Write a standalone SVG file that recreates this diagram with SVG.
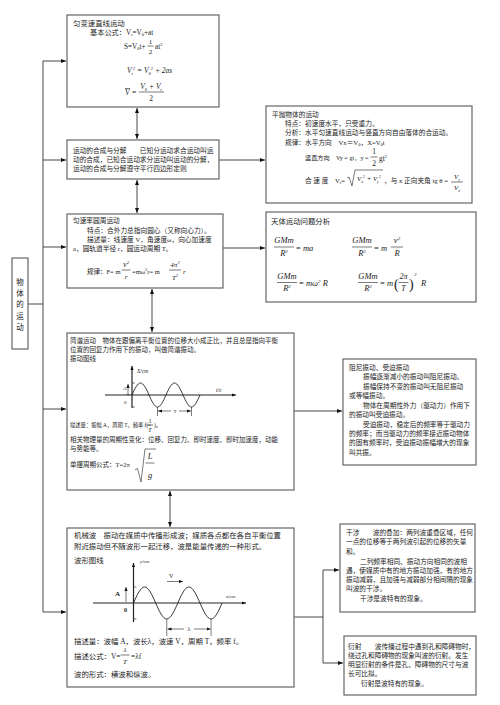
<svg xmlns="http://www.w3.org/2000/svg" width="500" height="705" viewBox="0 0 500 705">
<defs>
<marker id="ah" viewBox="0 0 10 10" refX="10" refY="5" markerWidth="5" markerHeight="5" orient="auto-start-reverse" markerUnits="userSpaceOnUse"><path d="M0,1 L10,5 L0,9 z" fill="#111"/></marker>
<marker id="sa" viewBox="0 0 10 10" refX="10" refY="5" markerWidth="4" markerHeight="4" orient="auto-start-reverse" markerUnits="userSpaceOnUse"><path d="M0,1 L10,5 L0,9 z" fill="#111"/></marker>
</defs>
<style>
.box{fill:#fff;stroke:#666;stroke-width:1.2}
.t{font-family:"Liberation Serif","Noto Sans CJK SC",serif;font-size:6.7px;fill:#222}
.tb{font-family:"Liberation Serif","Noto Sans CJK SC",serif;font-size:7.4px;fill:#222}
.m{font-family:"Liberation Serif",serif;font-style:italic;fill:#222}
.c{text-anchor:middle}
.ln{stroke:#333;stroke-width:0.9;fill:none}
.fl{stroke:#222;stroke-width:0.6;fill:none}
.ax{stroke:#222;stroke-width:1.2;fill:none}
.wv{stroke:#222;stroke-width:0.9;fill:none}
</style>
<rect width="500" height="705" fill="#fff"/>

<g id="connectors">
<line class="ln" x1="43" y1="61" x2="43" y2="612"/>
<line class="ln" x1="28" y1="304" x2="43" y2="304"/>
<line class="ln" x1="43" y1="61" x2="66" y2="61" marker-end="url(#ah)"/>
<line class="ln" x1="43" y1="160" x2="66" y2="160" marker-end="url(#ah)"/>
<line class="ln" x1="43" y1="247" x2="66" y2="247" marker-end="url(#ah)"/>
<line class="ln" x1="43" y1="409" x2="66" y2="409" marker-end="url(#ah)"/>
<line class="ln" x1="43" y1="612" x2="66" y2="612" marker-end="url(#ah)"/>
<line class="ln" x1="137" y1="108" x2="137" y2="139" marker-start="url(#ah)" marker-end="url(#ah)"/>
<line class="ln" x1="137" y1="180" x2="137" y2="213" marker-start="url(#ah)" marker-end="url(#ah)"/>
<line class="ln" x1="152" y1="289" x2="152" y2="332" marker-start="url(#ah)" marker-end="url(#ah)"/>
<line class="ln" x1="170" y1="491" x2="170" y2="527" marker-start="url(#ah)" marker-end="url(#ah)"/>
<line class="ln" x1="219" y1="160" x2="265" y2="160" marker-end="url(#ah)"/>
<line class="ln" x1="223" y1="248" x2="265" y2="248" marker-end="url(#ah)"/>
<line class="ln" x1="294" y1="411" x2="342" y2="411" marker-end="url(#ah)"/>
<line class="ln" x1="294" y1="617" x2="323" y2="617"/>
<line class="ln" x1="323" y1="570" x2="323" y2="663"/>
<line class="ln" x1="323" y1="570" x2="339" y2="570" marker-end="url(#ah)"/>
<line class="ln" x1="323" y1="663" x2="343" y2="663" marker-end="url(#ah)"/>
</g>

<g id="root">
<rect class="box" x="12" y="258" width="16" height="91"/>
<text class="t c" x="20" y="285" style="font-size:7.5px">物</text>
<text class="t c" x="20" y="296" style="font-size:7.5px">体</text>
<text class="t c" x="20" y="307" style="font-size:7.5px">的</text>
<text class="t c" x="20" y="319" style="font-size:7.5px">运</text>
<text class="t c" x="20" y="330" style="font-size:7.5px">动</text>
</g>

<g id="uniform-accel">
<rect class="box" x="67" y="15" width="152" height="92"/>
<text class="t" x="73" y="26" style="font-size:7.4px">匀变速直线运动</text>
<text class="t" x="90" y="35" style="font-size:7.2px">基本公式：V<tspan font-size="4.5" dy="1">t</tspan><tspan dy="-1">=V</tspan><tspan font-size="4.5" dy="1">0</tspan><tspan dy="-1">+at</tspan></text>
<text class="t" x="124" y="49" style="font-size:7.2px">S=V<tspan font-size="4.5" dy="1">0</tspan><tspan dy="-1">t+</tspan></text>
<text class="t c" x="150.5" y="44" style="font-size:7px">1</text>
<line class="fl" x1="147.5" y1="46" x2="153.5" y2="46"/>
<text class="t c" x="150.5" y="54" style="font-size:7px">2</text>
<text class="t" x="155" y="49" style="font-size:7.2px">at<tspan font-size="4.5" dy="-3">2</tspan></text>
<text class="m" x="127" y="73" style="font-size:7.5px">V<tspan font-size="4.5" dy="1.5">t</tspan><tspan font-size="4.5" dy="-5">2</tspan><tspan dy="3.5"> = V</tspan><tspan font-size="4.5" dy="1.5">0</tspan><tspan font-size="4.5" dy="-5">2</tspan><tspan dy="3.5"> + 2as</tspan></text>
<text class="m" x="125" y="95" style="font-size:7.5px">V</text>
<line class="fl" x1="125" y1="88.5" x2="130" y2="88.5"/>
<text class="m" x="132" y="95" style="font-size:7.5px;font-style:normal">=</text>
<text class="m c" x="151" y="89" style="font-size:7.5px">V<tspan font-size="4.5" dy="1.5">0</tspan><tspan dy="-1.5"> + V</tspan><tspan font-size="4.5" dy="1.5">t</tspan></text>
<line class="fl" x1="139" y1="92" x2="164" y2="92"/>
<text class="m c" x="151" y="101" style="font-size:7.5px;font-style:normal">2</text>
</g>

<g id="composition">
<rect class="box" x="67" y="140" width="152" height="39"/>
<text class="t" x="73" y="153">运动的合成与分解　　已知分运动求合运动叫运</text>
<text class="t" x="73" y="162">动的合成，已知合运动求分运动叫运动的分解，</text>
<text class="t" x="73" y="171">运动的合成与分解遵守平行四边形定则</text>
</g>

<g id="projectile">
<rect class="box" x="266" y="106" width="206" height="97"/>
<text class="t" x="272" y="117">平抛物体的运动</text>
<text class="t" x="285" y="126">特点：初速度水平，只受重力。</text>
<text class="t" x="285" y="135">分析：水平匀速直线运动与竖直方向自由落体的合运动。</text>
<text class="t" x="285" y="145">规律：水平方向　Vx＝V<tspan font-size="4.5" dy="1">0</tspan><tspan dy="-1">，X=V</tspan><tspan font-size="4.5" dy="1">0</tspan><tspan dy="-1">t</tspan></text>
<text class="t" x="305" y="160" style="font-size:6.2px">竖直方向　Vy = gt，y = </text>
<text class="t c" x="374" y="154" style="font-size:7.5px">1</text>
<line class="fl" x1="370.5" y1="157" x2="377.5" y2="157"/>
<text class="t c" x="374" y="166" style="font-size:7.5px">2</text>
<text class="t" x="379" y="161" style="font-size:7.5px">gt<tspan font-size="4.5" dy="-3.5">2</tspan></text>
<text class="t" x="305" y="183">合 速 度　V<tspan font-size="4.5" dy="1">t</tspan><tspan dy="-1">= </tspan></text>
<path class="fl" d="M347,178 L349,177 L352,186 L355,170 L383,170"/>
<text class="m" x="357" y="181" style="font-size:6.8px">V<tspan font-size="4" dy="1.5">x</tspan><tspan font-size="4" dy="-5">2</tspan><tspan dy="3.5"> + V</tspan><tspan font-size="4" dy="1.5">y</tspan><tspan font-size="4" dy="-5">2</tspan></text>
<text class="t" x="384" y="183">，与 x 正向夹角 tg θ =</text>
<text class="m c" x="457" y="179" style="font-size:6.8px">V<tspan font-size="4" dy="1.5">y</tspan></text>
<line class="fl" x1="451" y1="182" x2="463" y2="182"/>
<text class="m c" x="457" y="190" style="font-size:6.8px">V<tspan font-size="4" dy="1.5">x</tspan></text>
</g>

<g id="circular">
<rect class="box" x="67" y="214" width="156" height="74"/>
<text class="t" x="73" y="223">匀速率圆周运动</text>
<text class="t" x="87" y="233">特点：合外力总指向圆心（又称向心力）。</text>
<text class="t" x="87" y="242">描述量：线速度 V，角速度ω，向心加速度</text>
<text class="t" x="73" y="251">a，圆轨道半径 r，圆运动周期 T。</text>
<text class="t" x="87" y="274" style="font-size:6.5px">规律：F= m</text>
<text class="m c" x="126" y="267" style="font-size:7px">V<tspan font-size="4.5" dy="-3">2</tspan></text>
<line class="fl" x1="121.5" y1="270" x2="130.5" y2="270"/>
<text class="m c" x="126" y="279" style="font-size:7px">r</text>
<text class="t" x="132" y="274" style="font-size:6.5px">=mω<tspan font-size="4.5" dy="-3">2</tspan><tspan dy="3">r= m</tspan></text>
<text class="m c" x="175" y="267" style="font-size:7px">4π<tspan font-size="4.5" dy="-3">2</tspan></text>
<line class="fl" x1="169" y1="270" x2="181" y2="270"/>
<text class="m c" x="175" y="280" style="font-size:7px">T<tspan font-size="4.5" dy="-3">2</tspan></text>
<text class="m" x="183" y="274" style="font-size:7px">r</text>
</g>

<g id="celestial">
<rect class="box" x="266" y="212" width="210" height="90"/>
<text class="t" x="271" y="224" style="font-size:7.4px">天体运动问题分析</text>
<text class="m c" x="284" y="243" style="font-size:8.5px">GMm</text>
<line class="fl" x1="274" y1="247" x2="294" y2="247"/>
<text class="m c" x="284" y="256" style="font-size:8.5px">R<tspan font-size="5" dy="-3.5">2</tspan></text>
<text class="m" x="296" y="251" style="font-size:8.5px"><tspan font-style="normal">=</tspan> ma</text>
<text class="m c" x="362" y="243" style="font-size:8.5px">GMm</text>
<line class="fl" x1="352" y1="247" x2="372" y2="247"/>
<text class="m c" x="362" y="256" style="font-size:8.5px">R<tspan font-size="5" dy="-3.5">2</tspan></text>
<text class="m" x="374" y="251" style="font-size:8.5px"><tspan font-style="normal">=</tspan> m</text>
<text class="m c" x="397" y="243" style="font-size:8.5px">v<tspan font-size="5" dy="-3.5">2</tspan></text>
<line class="fl" x1="391" y1="247" x2="403" y2="247"/>
<text class="m c" x="397" y="256" style="font-size:8.5px">R</text>
<text class="m c" x="287" y="279" style="font-size:8.5px">GMm</text>
<line class="fl" x1="277" y1="282.5" x2="297" y2="282.5"/>
<text class="m c" x="287" y="291" style="font-size:8.5px">R<tspan font-size="5" dy="-3.5">2</tspan></text>
<text class="m" x="299" y="286" style="font-size:8.5px"><tspan font-style="normal">=</tspan> mω<tspan font-size="5" dy="-3.5">2</tspan><tspan dy="3.5"> R</tspan></text>
<text class="m c" x="368" y="279" style="font-size:8.5px">GMm</text>
<line class="fl" x1="358" y1="282.5" x2="378" y2="282.5"/>
<text class="m c" x="368" y="291" style="font-size:8.5px">R<tspan font-size="5" dy="-3.5">2</tspan></text>
<text class="m" x="380" y="286" style="font-size:8.5px"><tspan font-style="normal">=</tspan> m</text>
<text class="m" x="394" y="288.5" style="font-size:14px;font-style:normal">(</text>
<text class="m c" x="403.5" y="279" style="font-size:8px">2π</text>
<line class="fl" x1="398.5" y1="282.5" x2="408.5" y2="282.5"/>
<text class="m c" x="403.5" y="291" style="font-size:8px">T</text>
<text class="m" x="409" y="288.5" style="font-size:14px;font-style:normal">)</text>
<text class="m" x="414" y="276" style="font-size:5px">2</text>
<text class="m" x="421" y="286" style="font-size:8.5px">R</text>
</g>

<g id="shm">
<rect class="box" x="67" y="333" width="227" height="157"/>
<text class="t" x="70" y="343" style="font-size:6.5px">简谐运动　物体在跟偏离平衡位置的位移大小成正比，并且总是指向平衡</text>
<text class="t" x="70" y="352" style="font-size:6.5px">位置的回复力作用下的振动，叫做简谐振动。</text>
<text class="t" x="70" y="361" style="font-size:6.5px">振动图线</text>
<line class="ax" x1="132" y1="408" x2="132" y2="366" marker-end="url(#sa)"/>
<line class="ax" x1="105" y1="395" x2="236" y2="395" marker-end="url(#sa)"/>
<text class="m" x="137" y="373" style="font-size:5.5px">X/cm</text>
<text class="m" x="216" y="392" style="font-size:5.5px">t/s</text>
<text class="m" x="123" y="390" style="font-size:5px;font-style:normal">A</text>
<line class="fl" x1="128" y1="394" x2="128" y2="384" marker-end="url(#sa)"/>
<line class="fl" x1="126.5" y1="394.5" x2="129.5" y2="394.5"/>
<text class="m" x="124" y="404" style="font-size:5px;font-style:normal">0</text>
<line class="fl" x1="132" y1="383" x2="135" y2="383"/>
<line class="fl" x1="132" y1="407" x2="135" y2="407"/>
<path class="wv" d="M132,395 C134.77,388.85 137.44,383 140.5,383 S146.23,388.85 149,395 S154.44,407 157.5,407 S163.23,401.15 166,395 S171.44,383 174.5,383 S180.23,388.85 183,395 S188.44,407 191.5,407 S197.23,401.15 200,395"/>
<line class="fl" x1="157.5" y1="407" x2="157.5" y2="416"/>
<line class="fl" x1="191.5" y1="407" x2="191.5" y2="416"/>
<line class="fl" x1="171" y1="411" x2="158" y2="411" marker-end="url(#sa)"/>
<line class="fl" x1="179" y1="411" x2="191" y2="411" marker-end="url(#sa)"/>
<text class="m c" x="175" y="413" style="font-size:5px;font-style:normal">T</text>
<text class="t" x="70" y="427" style="font-size:5.3px">描述量：振幅 A，周期 T，频率 f(=</text>
<text class="m c" x="150" y="422.5" style="font-size:6px;font-style:normal">1</text>
<line class="fl" x1="147" y1="425" x2="153" y2="425"/>
<text class="m c" x="150" y="432" style="font-size:6px">T</text>
<text class="t" x="154" y="427" style="font-size:5.3px">)。</text>
<text class="t" x="70" y="442" style="font-size:6.5px">相关物理量的周期性变化：位移、回复力、即时速度、即时加速度，动能</text>
<text class="t" x="70" y="451" style="font-size:6.5px">与势能等。</text>
<text class="t" x="70" y="467" style="font-size:6.5px">单摆周期公式：T=2π</text>
<path class="fl" d="M135,470 L137.5,468.5 L141,482 L145,449 L156,449"/>
<text class="m c" x="150" y="459" style="font-size:8.5px">L</text>
<line class="fl" x1="145.5" y1="463" x2="154.5" y2="463"/>
<text class="m c" x="150" y="478" style="font-size:8.5px">g</text>
</g>

<g id="damped">
<rect class="box" x="343" y="359" width="133" height="106"/>
<text class="t" x="349" y="370">阻尼振动、受迫振动</text>
<text class="t" x="363" y="379">振幅逐渐减小的振动叫阻尼振动。</text>
<text class="t" x="363" y="389">振幅保持不变的振动叫无阻尼振动</text>
<text class="t" x="349" y="398">或等幅振动。</text>
<text class="t" x="363" y="408">物体在周期性外力（驱动力）作用下</text>
<text class="t" x="349" y="417">的振动叫受迫振动。</text>
<text class="t" x="363" y="427">受迫振动，稳定后的频率等于驱动力</text>
<text class="t" x="349" y="436">的频率；而当驱动力的频率接近振动物体</text>
<text class="t" x="349" y="445">的固有频率时，受迫振动振幅增大的现象</text>
<text class="t" x="349" y="455">叫共振。</text>
</g>

<g id="wave">
<rect class="box" x="67" y="528" width="227" height="159"/>
<text class="tb" x="74" y="538">机械波　振动在媒质中传播形成波；媒质各点都在各自平衡位置</text>
<text class="tb" x="74" y="549">附近振动但不随波形一起迁移，波是能量传递的一种形式。</text>
<text class="tb" x="74" y="563">波形图线</text>
<line class="ax" x1="133.5" y1="622" x2="133.5" y2="563" marker-end="url(#sa)"/>
<line class="ax" x1="93" y1="603" x2="246" y2="603" marker-end="url(#sa)"/>
<text class="m" x="140" y="563" style="font-size:5px">y/cm</text>
<text class="m" x="226" y="598" style="font-size:5px">x/cm</text>
<text class="m" x="169" y="578" style="font-size:6px;font-style:normal">V</text>
<line class="fl" x1="167" y1="581.5" x2="183" y2="581.5" marker-end="url(#sa)"/>
<text class="m" x="115" y="596" style="font-size:7px;font-style:normal;font-weight:bold">A</text>
<line class="fl" x1="126" y1="602" x2="126" y2="587" marker-end="url(#sa)"/>
<text class="m" x="124" y="612" style="font-size:6px;font-style:normal;font-weight:bold">0</text>
<line class="fl" x1="133.5" y1="587" x2="136.5" y2="587"/>
<line class="fl" x1="133.5" y1="619" x2="136.5" y2="619"/>
<path class="wv" d="M133.5,603 C137.11,594.8 140.59,587 144.58,587 S152.05,594.8 155.66,603 S162.75,619 166.74,619 S174.21,611.2 177.82,603 S184.91,587 188.9,587 S196.37,594.8 199.98,603 S207.07,619 211.06,619 S218.53,611.2 222.14,603"/>
<line class="fl" x1="166.74" y1="619" x2="166.74" y2="636"/>
<line class="fl" x1="211.06" y1="619" x2="211.06" y2="636"/>
<line class="fl" x1="184" y1="629" x2="167.5" y2="629" marker-end="url(#sa)"/>
<line class="fl" x1="194" y1="629" x2="210.5" y2="629" marker-end="url(#sa)"/>
<text class="m c" x="189" y="631" style="font-size:6px;font-style:normal">λ</text>
<text class="tb" x="74" y="644">描述量：波幅 A，波长λ，波速 V，周期 T，频率 f。</text>
<text class="tb" x="74" y="659">描述公式：V=</text>
<text class="m c" x="125" y="652" style="font-size:7px">λ</text>
<line class="fl" x1="120.5" y1="655" x2="129.5" y2="655"/>
<text class="m c" x="125" y="664" style="font-size:7px">T</text>
<text class="tb" x="131" y="659">=λf</text>
<text class="tb" x="74" y="677">波的形式：横波和纵波。</text>
</g>

<g id="interference">
<rect class="box" x="340" y="524" width="135" height="88"/>
<text class="t" x="346" y="535">干涉　　波的叠加：两列波重叠区域，任何</text>
<text class="t" x="346" y="544">一点的位移等于两列波引起的位移的矢量</text>
<text class="t" x="346" y="554">和。</text>
<text class="t" x="360" y="564">二列频率相同、振动方向相同的波相</text>
<text class="t" x="346" y="573">遇，使媒质中有的地方振动加强，有的地方</text>
<text class="t" x="346" y="582">振动减弱，且加强与减弱部分相间隔的现象</text>
<text class="t" x="346" y="591">叫波的干涉。</text>
<text class="t" x="360" y="601">干涉是波特有的现象。</text>
</g>

<g id="diffraction">
<rect class="box" x="344" y="636" width="132" height="59"/>
<text class="t" x="348" y="649">衍射　　波传播过程中遇到孔和障碍物时，</text>
<text class="t" x="348" y="658">绕过孔和障碍物的现象叫波的衍射。发生</text>
<text class="t" x="348" y="667">明显衍射的条件是孔、障碍物的尺寸与波</text>
<text class="t" x="348" y="676">长可比拟。</text>
<text class="t" x="361" y="686">衍射是波特有的现象。</text>
</g>
</svg>
